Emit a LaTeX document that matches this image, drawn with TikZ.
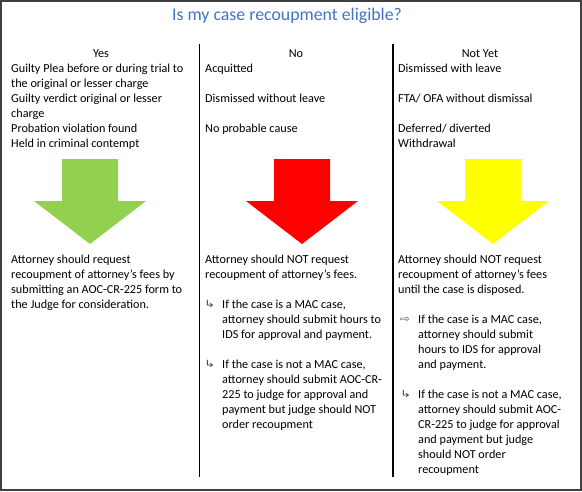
\documentclass[tikz,border=0pt]{standalone}
\usepackage{fontspec}
\usepackage{graphicx}
\setmainfont{Carlito}
\newfontfamily\symfont{DejaVu Sans}
\definecolor{titleblue}{HTML}{4472C4}
\definecolor{argreen}{HTML}{92D050}
\definecolor{arred}{HTML}{FF0000}
\definecolor{aryellow}{HTML}{FFFF00}
\definecolor{framegray}{HTML}{404040}
\newcommand{\hookb}{\makebox[18pt][l]{\raisebox{0.5pt}{\scalebox{1.5}[1.1]{\symfont\fontsize{9}{10}\selectfont\color{black!70}↳}}}}
\newcommand{\hollowb}{\makebox[18pt][l]{\raisebox{0.5pt}{\scalebox{1.3}[1.1]{\symfont\fontsize{9}{10}\selectfont\color{black!70}⇨}}}}
\begin{document}
\begin{tikzpicture}[x=1pt,y=-1pt,
  txt/.style={anchor=base west,inner sep=0pt,font=\fontsize{12.2}{15}\selectfont},
  head/.style={anchor=base,inner sep=0pt,font=\fontsize{12.2}{15}\selectfont},
  divider/.style={line width=1.6pt,black}]
\useasboundingbox (0,0) rectangle (582,491);
\draw[framegray,line width=1.8pt] (1,1) rectangle (581,490);
\node[inner sep=0pt,font=\fontsize{17.8}{20}\selectfont,text=titleblue] (title) at (287,16) {Is my case recoupment eligible?};
% dividers
\coordinate (d1t) at (199.5,44); \coordinate (d1b) at (199.5,477);
\coordinate (d2t) at (393,44); \coordinate (d2b) at (393,477);
\draw[divider] (d1t) -- (d1b);
\draw[divider] (d2t) -- (d2b);
% headers
\node[head] (hyes) at (101,57) {Yes};
\node[head] (hno) at (296,57) {No};
\node[head] (hnot) at (480,57) {Not Yet};
% column 1 conditions
\node[txt] (y1) at (11,72) {Guilty Plea before or during trial to};
\node[txt] (y2) at (11,87) {the original or lesser charge};
\node[txt] (y3) at (11,102) {Guilty verdict original or lesser};
\node[txt] (y4) at (11,117) {charge};
\node[txt] (y5) at (11,132) {Probation violation found};
\node[txt] (y6) at (11,147) {Held in criminal contempt};
% column 2 conditions
\node[txt] (n1) at (205,72) {Acquitted};
\node[txt] (n2) at (205,102) {Dismissed without leave};
\node[txt] (n3) at (205,132) {No probable cause};
% column 3 conditions
\node[txt] (t1) at (398,72) {Dismissed with leave};
\node[txt] (t2) at (398,102) {FTA/ OFA without dismissal};
\node[txt] (t3) at (398,132) {Deferred/ diverted};
\node[txt] (t4) at (398,147) {Withdrawal};
% arrows
\fill[argreen] (62,159) -- (118,159) -- (118,201) -- (146,201) -- (90,244) -- (34,201) -- (62,201) -- cycle;
\fill[arred] (274,159) -- (330,159) -- (330,201) -- (358,201) -- (302,244) -- (246,201) -- (274,201) -- cycle;
\fill[aryellow] (465,159) -- (521,159) -- (521,201) -- (549,201) -- (493,244) -- (437,201) -- (465,201) -- cycle;
% column 1 result
\node[txt] (ya1) at (11,263) {Attorney should request};
\node[txt] (ya2) at (11,278) {recoupment of attorney’s fees by};
\node[txt] (ya3) at (11,293) {submitting an AOC-CR-225 form to};
\node[txt] (ya4) at (11,308) {the Judge for consideration.};
% column 2 result
\node[txt] (na1) at (205,263) {Attorney should NOT request};
\node[txt] (na2) at (205,278) {recoupment of attorney’s fees.};
\node[txt] (nb1) at (204,308) {\hookb If the case is a MAC case,};
\node[txt] (nb2) at (222,323) {attorney should submit hours to};
\node[txt] (nb3) at (222,338) {IDS for approval and payment.};
\node[txt] (nc1) at (204,368) {\hookb If the case is not a MAC case,};
\node[txt] (nc2) at (222,383) {attorney should submit AOC-CR-};
\node[txt] (nc3) at (222,398) {225 to judge for approval and};
\node[txt] (nc4) at (222,413) {payment but judge should NOT};
\node[txt] (nc5) at (222,428) {order recoupment};
% column 3 result
\node[txt] (ta1) at (398,263) {Attorney should NOT request};
\node[txt] (ta2) at (398,278) {recoupment of attorney’s fees};
\node[txt] (ta3) at (398,293) {until the case is disposed.};
\node[txt] (tb1) at (400,323) {\hollowb If the case is a MAC case,};
\node[txt] (tb2) at (418,338) {attorney should submit};
\node[txt] (tb3) at (418,353) {hours to IDS for approval};
\node[txt] (tb4) at (418,368) {and payment.};
\node[txt] (tc1) at (400,398) {\hookb If the case is not a MAC case,};
\node[txt] (tc2) at (418,413) {attorney should submit AOC-};
\node[txt] (tc3) at (418,428) {CR-225 to judge for approval};
\node[txt] (tc4) at (418,443) {and payment but judge};
\node[txt] (tc5) at (418,458) {should NOT order};
\node[txt] (tc6) at (418,473) {recoupment};
\end{tikzpicture}
\end{document}
